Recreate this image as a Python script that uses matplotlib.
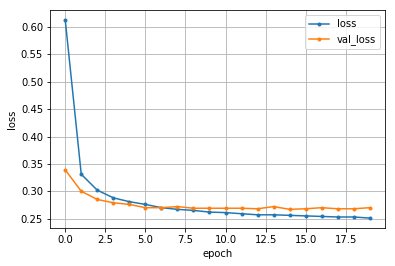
import matplotlib
matplotlib.use("Agg")
import matplotlib.pyplot as plt

epochs = list(range(20))
loss = [0.613, 0.331, 0.302, 0.288, 0.281, 0.276, 0.270, 0.267, 0.265, 0.262,
        0.261, 0.259, 0.257, 0.257, 0.256, 0.255, 0.254, 0.253, 0.253, 0.251]
val_loss = [0.339, 0.300, 0.285, 0.279, 0.276, 0.270, 0.270, 0.272, 0.269, 0.269,
            0.269, 0.269, 0.268, 0.272, 0.267, 0.268, 0.270, 0.268, 0.268, 0.270]

fig = plt.figure(figsize=(395/72, 266/72), dpi=72)
ax = fig.add_axes([50/395, 1-228/266, (385-50)/395, (228-10)/266])
ax.plot(epochs, loss, marker='.', label='loss')
ax.plot(epochs, val_loss, marker='.', label='val_loss')
ax.set_xlabel('epoch')
ax.set_ylabel('loss')
ax.grid(True)
ax.legend(loc='upper right')
fig.savefig('out.png', dpi=72)
